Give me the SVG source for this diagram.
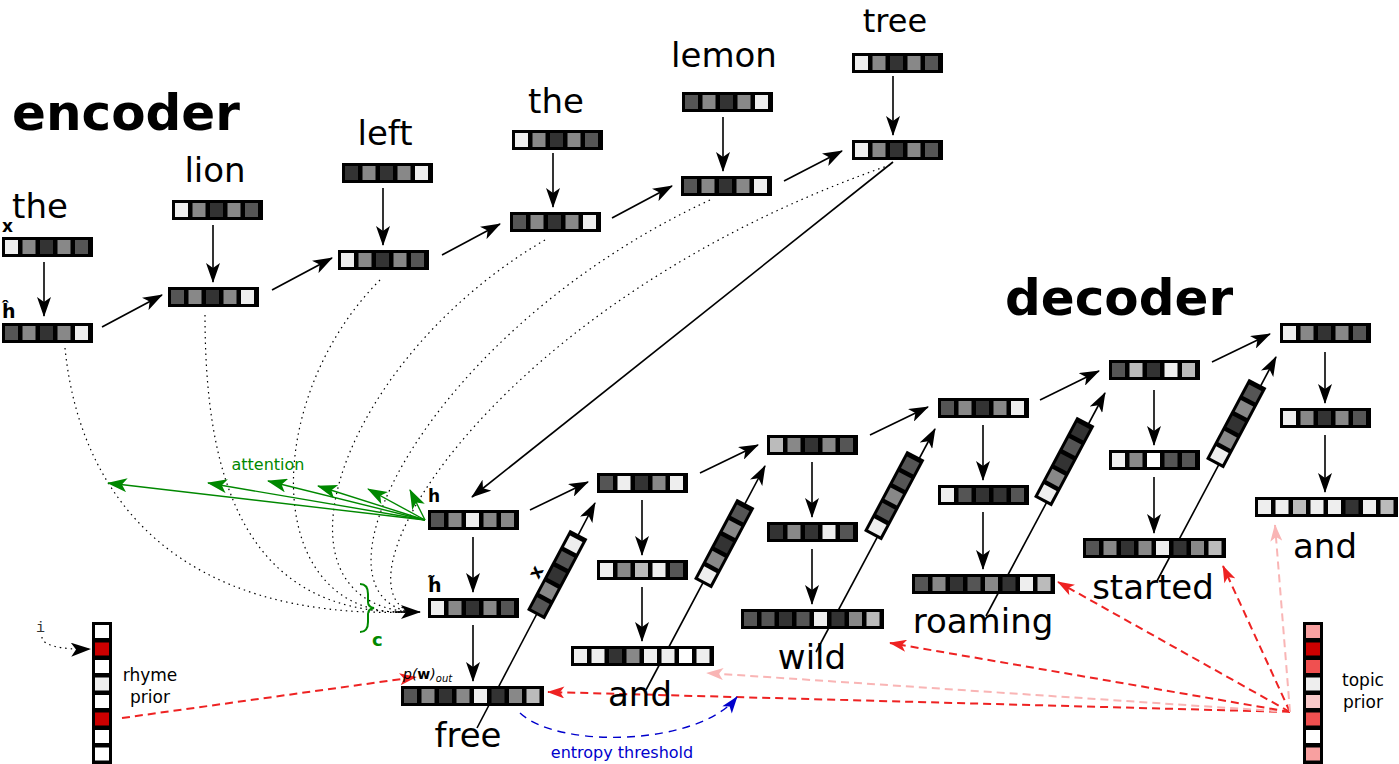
<svg xmlns="http://www.w3.org/2000/svg" width="1399" height="764" viewBox="0 0 1399 764">
<style>
.o{fill:#000}.a{fill:#eee}.b{fill:#888}.c{fill:#333}.d{fill:#555}.e{fill:#bbb}.w{fill:#fff}
.t{font-family:"DejaVu Sans",sans-serif;fill:#000}
.ar{stroke:#000;stroke-width:1.6;fill:none;marker-end:url(#ah)}
.dot{stroke:#000;stroke-width:1.2;fill:none;stroke-dasharray:1.5 4}
.g{stroke:#080;stroke-width:1.4;fill:none;marker-end:url(#gh)}
.r{stroke:#e22;stroke-width:2;fill:none;stroke-dasharray:8 5;marker-end:url(#rh)}
.rl{stroke:#f9b5b5;stroke-width:2;fill:none;stroke-dasharray:8 5;marker-end:url(#rlh)}
</style>
<defs>
<marker id="ah" viewBox="0 0 20 14" refX="19" refY="7" markerWidth="20" markerHeight="14" markerUnits="userSpaceOnUse" orient="auto"><path d="M0 0L20 7L0 14L5 7Z" fill="#000"/></marker>
<marker id="gh" viewBox="0 0 20 14" refX="19" refY="7" markerWidth="20" markerHeight="14" markerUnits="userSpaceOnUse" orient="auto"><path d="M0 0L20 7L0 14L5 7Z" fill="#080"/></marker>
<marker id="rh" viewBox="0 0 20 14" refX="19" refY="7" markerWidth="18" markerHeight="12" markerUnits="userSpaceOnUse" orient="auto"><path d="M0 0L20 7L0 14L5 7Z" fill="#e22"/></marker>
<marker id="rlh" viewBox="0 0 20 14" refX="19" refY="7" markerWidth="18" markerHeight="12" markerUnits="userSpaceOnUse" orient="auto"><path d="M0 0L20 7L0 14L5 7Z" fill="#f9b5b5"/></marker>
<marker id="bh" viewBox="0 0 20 14" refX="19" refY="7" markerWidth="18" markerHeight="12" markerUnits="userSpaceOnUse" orient="auto"><path d="M0 0L20 7L0 14L5 7Z" fill="#00c"/></marker>
<g id="v5"><rect class="o" width="91" height="20"/></g>
<g id="v8"><rect class="o" width="143" height="20"/></g>
</defs>

<text class="t" x="12" y="130" font-size="50" font-weight="bold">encoder</text>
<text class="t" x="1005" y="315" font-size="50" font-weight="bold">decoder</text>

<g id="connectors">
<line class="ar" x1="44" y1="262" x2="44" y2="316"/>
<line class="ar" x1="213" y1="225" x2="213" y2="282"/>
<line class="ar" x1="383" y1="188" x2="383" y2="245"/>
<line class="ar" x1="553" y1="153" x2="553" y2="207"/>
<line class="ar" x1="723" y1="117" x2="723" y2="171"/>
<line class="ar" x1="893" y1="76" x2="893" y2="135"/>
<line class="ar" x1="102" y1="327" x2="162" y2="295"/>
<line class="ar" x1="272" y1="290" x2="332" y2="258"/>
<line class="ar" x1="442" y1="255" x2="500" y2="224"/>
<line class="ar" x1="612" y1="218" x2="672" y2="186"/>
<line class="ar" x1="784" y1="181" x2="842" y2="151"/>
<line class="ar" x1="893" y1="162" x2="472" y2="497"/>
<path class="dot" d="M65 348C80 500 180 620 410 612"/>
<path class="dot" d="M205 315C205 470 240 615 410 612"/>
<path class="dot" d="M380 280C260 400 260 620 410 612"/>
<path class="dot" d="M545 240C340 360 260 600 410 612"/>
<path class="dot" d="M710 200C430 330 300 590 410 612"/>
<path class="dot" d="M890 165C500 300 330 580 410 612"/>
<line class="ar" x1="395" y1="612" x2="420" y2="612"/>
<line class="g" x1="425" y1="520" x2="108" y2="483"/>
<line class="g" x1="425" y1="520" x2="208" y2="483"/>
<line class="g" x1="425" y1="520" x2="268" y2="481"/>
<line class="g" x1="425" y1="520" x2="318" y2="486"/>
<line class="g" x1="425" y1="520" x2="368" y2="489"/>
<line class="g" x1="425" y1="520" x2="410" y2="490"/>
<text x="268" y="470" font-family="DejaVu Sans,sans-serif" font-size="16" fill="#080" text-anchor="middle">attention</text>
<path d="M360 584q8 0 8 10v8q0 5 6 6q-6 1-6 6v8q0 10-8 10" stroke="#080" stroke-width="2" fill="none"/>
<text x="372" y="646" font-family="DejaVu Sans,sans-serif" font-size="18" font-weight="bold" fill="#080">c</text>
<line class="ar" x1="473" y1="537" x2="473" y2="592"/>
<line class="ar" x1="473" y1="625" x2="473" y2="681"/>
<line class="ar" x1="642" y1="500" x2="642" y2="555"/>
<line class="ar" x1="642" y1="587" x2="642" y2="641"/>
<line class="ar" x1="812" y1="462" x2="812" y2="517"/>
<line class="ar" x1="812" y1="549" x2="812" y2="604"/>
<line class="ar" x1="983" y1="425" x2="983" y2="480"/>
<line class="ar" x1="983" y1="512" x2="983" y2="569"/>
<line class="ar" x1="1154" y1="390" x2="1154" y2="445"/>
<line class="ar" x1="1154" y1="477" x2="1154" y2="533"/>
<line class="ar" x1="1325" y1="352" x2="1325" y2="403"/>
<line class="ar" x1="1325" y1="435" x2="1325" y2="492"/>
<line class="ar" x1="530" y1="510" x2="588" y2="482"/>
<line class="ar" x1="700" y1="473" x2="758" y2="445"/>
<line class="ar" x1="870" y1="435" x2="928" y2="407"/>
<line class="ar" x1="1040" y1="400" x2="1099" y2="371"/>
<line class="ar" x1="1212" y1="362" x2="1270" y2="334"/>
<line class="ar" x1="477" y1="728" x2="595" y2="503"/>
<line class="ar" x1="646" y1="690" x2="765" y2="466"/>
<line class="ar" x1="816" y1="652" x2="935" y2="429"/>
<line class="ar" x1="986" y1="616" x2="1105" y2="393"/>
<line class="ar" x1="1157" y1="581" x2="1276" y2="357"/>
<line class="r" x1="122" y1="718" x2="416" y2="677"/>
<line class="r" x1="1290" y1="712" x2="548" y2="692"/>
<line class="rl" x1="1290" y1="712" x2="707" y2="673"/>
<line class="r" x1="1290" y1="712" x2="890" y2="643"/>
<line class="r" x1="1290" y1="712" x2="1058" y2="582"/>
<line class="r" x1="1290" y1="712" x2="1223" y2="566"/>
<line class="rl" x1="1290" y1="712" x2="1275" y2="525"/>
<path d="M520 713C560 750 700 745 737 697" stroke="#00c" stroke-width="1.4" fill="none" stroke-dasharray="8 6" marker-end="url(#bh)"/>
<text x="622" y="758" font-family="DejaVu Sans,sans-serif" font-size="16" fill="#00c" text-anchor="middle">entropy threshold</text>
<path class="dot" d="M42 637C42 645 60 650 90 649" marker-end="url(#ah)"/>
</g>

<g id="enc1"><text class="t" x="40" y="218" font-size="34" text-anchor="middle">the</text><text class="t" x="2" y="232" font-size="17" font-weight="bold">x</text><text class="t" x="2" y="318" font-size="19" font-weight="bold">ĥ</text>
<g transform="translate(2,237)"><use href="#v5"/><rect class="a" x="3" y="3" width="13" height="14"/><rect class="b" x="20.5" y="3" width="13" height="14"/><rect class="c" x="38" y="3" width="13" height="14"/><rect class="b" x="55.5" y="3" width="13" height="14"/><rect class="d" x="73" y="3" width="13" height="14"/></g>
<g transform="translate(2,323)"><use href="#v5"/><rect class="d" x="3" y="3" width="13" height="14"/><rect class="b" x="20.5" y="3" width="13" height="14"/><rect class="c" x="38" y="3" width="13" height="14"/><rect class="b" x="55.5" y="3" width="13" height="14"/><rect class="a" x="73" y="3" width="13" height="14"/></g></g>
<g id="enc2"><text class="t" x="215" y="182" font-size="34" text-anchor="middle">lion</text>
<g transform="translate(172,200)"><use href="#v5"/><rect class="a" x="3" y="3" width="13" height="14"/><rect class="b" x="20.5" y="3" width="13" height="14"/><rect class="c" x="38" y="3" width="13" height="14"/><rect class="b" x="55.5" y="3" width="13" height="14"/><rect class="d" x="73" y="3" width="13" height="14"/></g>
<g transform="translate(168,287)"><use href="#v5"/><rect class="d" x="3" y="3" width="13" height="14"/><rect class="b" x="20.5" y="3" width="13" height="14"/><rect class="c" x="38" y="3" width="13" height="14"/><rect class="b" x="55.5" y="3" width="13" height="14"/><rect class="a" x="73" y="3" width="13" height="14"/></g></g>
<g id="enc3"><text class="t" x="385" y="145" font-size="34" text-anchor="middle">left</text>
<g transform="translate(342,163)"><use href="#v5"/><rect class="c" x="3" y="3" width="13" height="14"/><rect class="b" x="20.5" y="3" width="13" height="14"/><rect class="c" x="38" y="3" width="13" height="14"/><rect class="b" x="55.5" y="3" width="13" height="14"/><rect class="a" x="73" y="3" width="13" height="14"/></g>
<g transform="translate(338,250)"><use href="#v5"/><rect class="a" x="3" y="3" width="13" height="14"/><rect class="b" x="20.5" y="3" width="13" height="14"/><rect class="c" x="38" y="3" width="13" height="14"/><rect class="b" x="55.5" y="3" width="13" height="14"/><rect class="d" x="73" y="3" width="13" height="14"/></g></g>
<g id="enc4"><text class="t" x="556" y="113" font-size="34" text-anchor="middle">the</text>
<g transform="translate(512,130)"><use href="#v5"/><rect class="a" x="3" y="3" width="13" height="14"/><rect class="b" x="20.5" y="3" width="13" height="14"/><rect class="c" x="38" y="3" width="13" height="14"/><rect class="b" x="55.5" y="3" width="13" height="14"/><rect class="d" x="73" y="3" width="13" height="14"/></g>
<g transform="translate(510,212)"><use href="#v5"/><rect class="d" x="3" y="3" width="13" height="14"/><rect class="b" x="20.5" y="3" width="13" height="14"/><rect class="c" x="38" y="3" width="13" height="14"/><rect class="b" x="55.5" y="3" width="13" height="14"/><rect class="a" x="73" y="3" width="13" height="14"/></g></g>
<g id="enc5"><text class="t" x="724" y="67" font-size="34" text-anchor="middle">lemon</text>
<g transform="translate(682,92)"><use href="#v5"/><rect class="d" x="3" y="3" width="13" height="14"/><rect class="b" x="20.5" y="3" width="13" height="14"/><rect class="c" x="38" y="3" width="13" height="14"/><rect class="b" x="55.5" y="3" width="13" height="14"/><rect class="a" x="73" y="3" width="13" height="14"/></g>
<g transform="translate(681,176)"><use href="#v5"/><rect class="d" x="3" y="3" width="13" height="14"/><rect class="b" x="20.5" y="3" width="13" height="14"/><rect class="c" x="38" y="3" width="13" height="14"/><rect class="b" x="55.5" y="3" width="13" height="14"/><rect class="a" x="73" y="3" width="13" height="14"/></g></g>
<g id="enc6"><text class="t" x="895" y="32" font-size="32" text-anchor="middle">tree</text>
<g transform="translate(852,53)"><use href="#v5"/><rect class="a" x="3" y="3" width="13" height="14"/><rect class="b" x="20.5" y="3" width="13" height="14"/><rect class="c" x="38" y="3" width="13" height="14"/><rect class="b" x="55.5" y="3" width="13" height="14"/><rect class="d" x="73" y="3" width="13" height="14"/></g>
<g transform="translate(852,140)"><use href="#v5"/><rect class="a" x="3" y="3" width="13" height="14"/><rect class="b" x="20.5" y="3" width="13" height="14"/><rect class="c" x="38" y="3" width="13" height="14"/><rect class="b" x="55.5" y="3" width="13" height="14"/><rect class="d" x="73" y="3" width="13" height="14"/></g></g>

<g id="dec1"><text class="t" x="428" y="502" font-size="17" font-weight="bold">h</text><text class="t" x="428" y="592" font-size="19" font-weight="bold">h̃</text>
<text class="t" x="403" y="679" font-size="14" font-style="italic">p(<tspan font-weight="bold" font-style="normal">w</tspan>)<tspan font-size="10" dy="3">out</tspan></text>
<g transform="translate(428,510)"><use href="#v5"/><rect class="d" x="3" y="3" width="13" height="14"/><rect class="b" x="20.5" y="3" width="13" height="14"/><rect class="a" x="38" y="3" width="13" height="14"/><rect class="b" x="55.5" y="3" width="13" height="14"/><rect class="b" x="73" y="3" width="13" height="14"/></g>
<g transform="translate(428,598)"><use href="#v5"/><rect class="a" x="3" y="3" width="13" height="14"/><rect class="b" x="20.5" y="3" width="13" height="14"/><rect class="c" x="38" y="3" width="13" height="14"/><rect class="b" x="55.5" y="3" width="13" height="14"/><rect class="d" x="73" y="3" width="13" height="14"/></g>
<g transform="translate(401,686)"><use href="#v8"/><rect class="d" x="3" y="3" width="13" height="14"/><rect class="b" x="20.5" y="3" width="13" height="14"/><rect class="c" x="38" y="3" width="13" height="14"/><rect class="b" x="55.5" y="3" width="13" height="14"/><rect class="a" x="73" y="3" width="13" height="14"/><rect class="c" x="90.5" y="3" width="13" height="14"/><rect class="b" x="108" y="3" width="13" height="14"/><rect class="e" x="125.5" y="3" width="13" height="14"/></g>
<text class="t" x="468" y="747" font-size="34" text-anchor="middle">free</text>
<g transform="translate(557,575) rotate(-62)"><use href="#v5" x="-45" y="-10"/><rect class="d" x="-42" y="-7" width="13" height="14"/><rect class="b" x="-24.5" y="-7" width="13" height="14"/><rect class="c" x="-7" y="-7" width="13" height="14"/><rect class="d" x="10.5" y="-7" width="13" height="14"/><rect class="a" x="28" y="-7" width="13" height="14"/></g>
<text class="t" x="530" y="578" font-size="18" font-weight="bold" transform="rotate(-62 536 572)">x</text></g>

<g id="dec2">
<g transform="translate(597,473)"><use href="#v5"/><rect class="d" x="3" y="3" width="13" height="14"/><rect class="a" x="20.5" y="3" width="13" height="14"/><rect class="c" x="38" y="3" width="13" height="14"/><rect class="b" x="55.5" y="3" width="13" height="14"/><rect class="a" x="73" y="3" width="13" height="14"/></g>
<g transform="translate(597,560)"><use href="#v5"/><rect class="a" x="3" y="3" width="13" height="14"/><rect class="b" x="20.5" y="3" width="13" height="14"/><rect class="e" x="38" y="3" width="13" height="14"/><rect class="a" x="55.5" y="3" width="13" height="14"/><rect class="d" x="73" y="3" width="13" height="14"/></g>
<g transform="translate(571,646)"><use href="#v8"/><rect class="a" x="3" y="3" width="13" height="14"/><rect class="a" x="20.5" y="3" width="13" height="14"/><rect class="c" x="38" y="3" width="13" height="14"/><rect class="b" x="55.5" y="3" width="13" height="14"/><rect class="a" x="73" y="3" width="13" height="14"/><rect class="a" x="90.5" y="3" width="13" height="14"/><rect class="w" x="108" y="3" width="13" height="14"/><rect class="a" x="125.5" y="3" width="13" height="14"/></g>
<text class="t" x="640" y="706" font-size="34" text-anchor="middle">and</text>
<g transform="translate(724,544) rotate(-62)"><use href="#v5" x="-45" y="-10"/><rect class="a" x="-42" y="-7" width="13" height="14"/><rect class="b" x="-24.5" y="-7" width="13" height="14"/><rect class="c" x="-7" y="-7" width="13" height="14"/><rect class="b" x="10.5" y="-7" width="13" height="14"/><rect class="d" x="28" y="-7" width="13" height="14"/></g></g>

<g id="dec3">
<g transform="translate(767,435)"><use href="#v5"/><rect class="e" x="3" y="3" width="13" height="14"/><rect class="b" x="20.5" y="3" width="13" height="14"/><rect class="c" x="38" y="3" width="13" height="14"/><rect class="b" x="55.5" y="3" width="13" height="14"/><rect class="d" x="73" y="3" width="13" height="14"/></g>
<g transform="translate(767,522)"><use href="#v5"/><rect class="c" x="3" y="3" width="13" height="14"/><rect class="b" x="20.5" y="3" width="13" height="14"/><rect class="c" x="38" y="3" width="13" height="14"/><rect class="a" x="55.5" y="3" width="13" height="14"/><rect class="d" x="73" y="3" width="13" height="14"/></g>
<g transform="translate(741,609)"><use href="#v8"/><rect class="d" x="3" y="3" width="13" height="14"/><rect class="d" x="20.5" y="3" width="13" height="14"/><rect class="c" x="38" y="3" width="13" height="14"/><rect class="d" x="55.5" y="3" width="13" height="14"/><rect class="a" x="73" y="3" width="13" height="14"/><rect class="c" x="90.5" y="3" width="13" height="14"/><rect class="b" x="108" y="3" width="13" height="14"/><rect class="e" x="125.5" y="3" width="13" height="14"/></g>
<text class="t" x="812" y="669" font-size="34" text-anchor="middle">wild</text>
<g transform="translate(894,496) rotate(-62)"><use href="#v5" x="-45" y="-10"/><rect class="a" x="-42" y="-7" width="13" height="14"/><rect class="d" x="-24.5" y="-7" width="13" height="14"/><rect class="b" x="-7" y="-7" width="13" height="14"/><rect class="d" x="10.5" y="-7" width="13" height="14"/><rect class="d" x="28" y="-7" width="13" height="14"/></g></g>

<g id="dec4">
<g transform="translate(938,398)"><use href="#v5"/><rect class="d" x="3" y="3" width="13" height="14"/><rect class="b" x="20.5" y="3" width="13" height="14"/><rect class="c" x="38" y="3" width="13" height="14"/><rect class="b" x="55.5" y="3" width="13" height="14"/><rect class="a" x="73" y="3" width="13" height="14"/></g>
<g transform="translate(938,485)"><use href="#v5"/><rect class="a" x="3" y="3" width="13" height="14"/><rect class="d" x="20.5" y="3" width="13" height="14"/><rect class="c" x="38" y="3" width="13" height="14"/><rect class="c" x="55.5" y="3" width="13" height="14"/><rect class="d" x="73" y="3" width="13" height="14"/></g>
<g transform="translate(912,574)"><use href="#v8"/><rect class="d" x="3" y="3" width="13" height="14"/><rect class="b" x="20.5" y="3" width="13" height="14"/><rect class="c" x="38" y="3" width="13" height="14"/><rect class="d" x="55.5" y="3" width="13" height="14"/><rect class="b" x="73" y="3" width="13" height="14"/><rect class="c" x="90.5" y="3" width="13" height="14"/><rect class="a" x="108" y="3" width="13" height="14"/><rect class="e" x="125.5" y="3" width="13" height="14"/></g>
<text class="t" x="983" y="633" font-size="34" text-anchor="middle">roaming</text>
<g transform="translate(1064,462) rotate(-62)"><use href="#v5" x="-45" y="-10"/><rect class="a" x="-42" y="-7" width="13" height="14"/><rect class="b" x="-24.5" y="-7" width="13" height="14"/><rect class="c" x="-7" y="-7" width="13" height="14"/><rect class="d" x="10.5" y="-7" width="13" height="14"/><rect class="c" x="28" y="-7" width="13" height="14"/></g></g>

<g id="dec5">
<g transform="translate(1109,360)"><use href="#v5"/><rect class="d" x="3" y="3" width="13" height="14"/><rect class="e" x="20.5" y="3" width="13" height="14"/><rect class="c" x="38" y="3" width="13" height="14"/><rect class="a" x="55.5" y="3" width="13" height="14"/><rect class="e" x="73" y="3" width="13" height="14"/></g>
<g transform="translate(1109,450)"><use href="#v5"/><rect class="a" x="3" y="3" width="13" height="14"/><rect class="b" x="20.5" y="3" width="13" height="14"/><rect class="w" x="38" y="3" width="13" height="14"/><rect class="d" x="55.5" y="3" width="13" height="14"/><rect class="d" x="73" y="3" width="13" height="14"/></g>
<g transform="translate(1083,538)"><use href="#v8"/><rect class="d" x="3" y="3" width="13" height="14"/><rect class="b" x="20.5" y="3" width="13" height="14"/><rect class="c" x="38" y="3" width="13" height="14"/><rect class="b" x="55.5" y="3" width="13" height="14"/><rect class="a" x="73" y="3" width="13" height="14"/><rect class="c" x="90.5" y="3" width="13" height="14"/><rect class="b" x="108" y="3" width="13" height="14"/><rect class="e" x="125.5" y="3" width="13" height="14"/></g>
<text class="t" x="1153" y="599" font-size="34" text-anchor="middle">started</text>
<g transform="translate(1236,424) rotate(-62)"><use href="#v5" x="-45" y="-10"/><rect class="a" x="-42" y="-7" width="13" height="14"/><rect class="b" x="-24.5" y="-7" width="13" height="14"/><rect class="c" x="-7" y="-7" width="13" height="14"/><rect class="b" x="10.5" y="-7" width="13" height="14"/><rect class="d" x="28" y="-7" width="13" height="14"/></g></g>

<g id="dec6">
<g transform="translate(1280,323)"><use href="#v5"/><rect class="a" x="3" y="3" width="13" height="14"/><rect class="b" x="20.5" y="3" width="13" height="14"/><rect class="c" x="38" y="3" width="13" height="14"/><rect class="b" x="55.5" y="3" width="13" height="14"/><rect class="d" x="73" y="3" width="13" height="14"/></g>
<g transform="translate(1280,408)"><use href="#v5"/><rect class="a" x="3" y="3" width="13" height="14"/><rect class="b" x="20.5" y="3" width="13" height="14"/><rect class="c" x="38" y="3" width="13" height="14"/><rect class="b" x="55.5" y="3" width="13" height="14"/><rect class="d" x="73" y="3" width="13" height="14"/></g>
<g transform="translate(1255,497)"><use href="#v8"/><rect class="a" x="3" y="3" width="13" height="14"/><rect class="a" x="20.5" y="3" width="13" height="14"/><rect class="e" x="38" y="3" width="13" height="14"/><rect class="a" x="55.5" y="3" width="13" height="14"/><rect class="a" x="73" y="3" width="13" height="14"/><rect class="c" x="90.5" y="3" width="13" height="14"/><rect class="a" x="108" y="3" width="13" height="14"/><rect class="e" x="125.5" y="3" width="13" height="14"/></g>
<text class="t" x="1325" y="558" font-size="34" text-anchor="middle">and</text></g>

<g id="rhyme"><text x="36" y="632" font-family="Liberation Mono,monospace" font-size="15" fill="#333">i</text>
<rect class="o" x="92" y="622" width="20" height="143"/>
<rect class="w" x="95" y="625" width="14" height="13"/><rect fill="#c00" x="95" y="642.5" width="14" height="13"/><rect class="w" x="95" y="660" width="14" height="13"/><rect class="a" x="95" y="677.5" width="14" height="13"/><rect class="w" x="95" y="695" width="14" height="13"/><rect fill="#c00" x="95" y="712.5" width="14" height="13"/><rect class="w" x="95" y="730" width="14" height="13"/><rect class="w" x="95" y="747.5" width="14" height="13"/>
<text class="t" x="150" y="681" font-size="17" text-anchor="middle">rhyme</text><text class="t" x="150" y="703" font-size="17" text-anchor="middle">prior</text></g>
<g id="topic">
<rect class="o" x="1303" y="622" width="20" height="143"/>
<rect fill="#f8a0a0" x="1306" y="625" width="14" height="13"/><rect fill="#c00" x="1306" y="642.5" width="14" height="13"/><rect fill="#f05050" x="1306" y="660" width="14" height="13"/><rect class="a" x="1306" y="677.5" width="14" height="13"/><rect fill="#f8c8c8" x="1306" y="695" width="14" height="13"/><rect fill="#f05050" x="1306" y="712.5" width="14" height="13"/><rect class="w" x="1306" y="730" width="14" height="13"/><rect fill="#f8a0a0" x="1306" y="747.5" width="14" height="13"/>
<text class="t" x="1363" y="686" font-size="17" text-anchor="middle">topic</text><text class="t" x="1363" y="708" font-size="17" text-anchor="middle">prior</text></g>
</svg>
